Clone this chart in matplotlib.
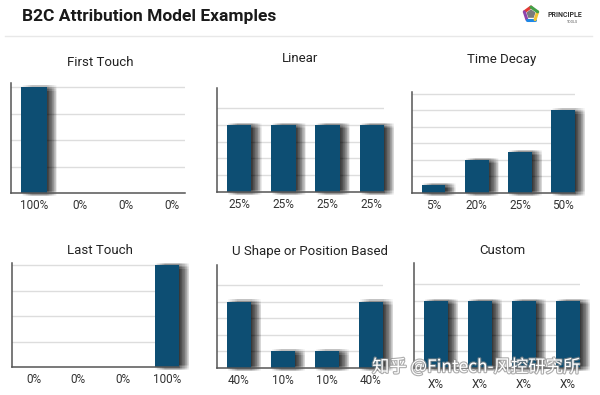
import matplotlib.pyplot as plt
import matplotlib.patheffects as pe
import numpy as np
from matplotlib.patches import Polygon

plt.rcParams['font.family'] = ['Roboto', 'DejaVu Sans']

# Data
titles = ['First Touch', 'Linear', 'Time Decay',
          'Last Touch', 'U Shape or Position Based', 'Custom']
first_touch = [100, 0, 0, 0]
linear = [25, 25, 25, 25]
time_decay = [5, 20, 25, 50]
last_touch = [0, 0, 0, 100]
u_shape = [40, 10, 10, 40]
custom = [40, 40, 40, 40]
values = [first_touch, linear, time_decay, last_touch, u_shape, custom]
labels = [['100%', '0%', '0%', '0%'],
          ['25%', '25%', '25%', '25%'],
          ['5%', '20%', '25%', '50%'],
          ['0%', '0%', '0%', '100%'],
          ['40%', '10%', '10%', '40%'],
          ['X%', 'X%', 'X%', 'X%']]
grid_step = [25, 6.25, 10, 25, 10, 10]
grid_top = [100, 31.25, 60, 100, 50, 50]
y_max = [104, 38.8, 61, 102, 62, 62.7]

# Layout (pixels: left, right, bottom, top measured from the top of the image)
W, H = 600, 395
boxes = [(11, 185, 193, 83), (217, 384, 192, 88), (412, 575, 193, 92),
         (12, 179, 367, 263), (217, 383, 368, 265), (414, 580, 368, 263)]
title_pos = [(100, 63), (300, 58), (502, 59), (100, 251), (310, 251), (502, 250)]
label_pad = [4, 4, 4, 4, 4, 7]

bar_color = '#0d4e73'
# soft drop shadow to the right of each bar (many faint offset copies)
shadow = [pe.SimplePatchShadow(offset=(dx, dy), shadow_rgbFace='black', alpha=0.014)
          for dx in np.arange(0.5, 8.0, 0.5) for dy in (-2.5, -1.5, -0.5, 0.5, 1.5)]
shadow.append(pe.Normal())

fig = plt.figure(figsize=(6, 3.95), dpi=100)

for i in range(6):
    l, r, b, t = boxes[i]
    ax = fig.add_axes([l / W, (H - b) / H, (r - l) / W, (b - t) / H])
    x = np.arange(4)
    for yv in np.arange(grid_step[i], grid_top[i] + 0.01, grid_step[i]):
        ax.axhline(yv, color='#dddddd', lw=1, zorder=0)
    bars = ax.bar(x, values[i], width=0.55, color=bar_color, zorder=2)
    for bar in bars:
        bar.set_path_effects(shadow)
        bar.set_clip_on(False)
    ax.set_xlim(-0.5, 3.275)
    ax.set_ylim(0, y_max[i])
    ax.set_xticks(x)
    ax.set_xticklabels(labels[i])
    ax.set_yticks([])
    ax.tick_params(axis='x', length=0, pad=label_pad[i], labelsize=8.5,
                   labelcolor='#333333')
    for s in ['top', 'right']:
        ax.spines[s].set_visible(False)
    for s in ['left', 'bottom']:
        ax.spines[s].set_color('#555555')
        ax.spines[s].set_linewidth(1.1)
        ax.spines[s].set_zorder(3)
    ax.patch.set_alpha(0)
    tx, ty = title_pos[i]
    fig.text(tx / W, 1 - ty / H, titles[i], ha='center', va='center',
             fontsize=9.5, color='#222222')

# Header
fig.text(22 / W, 1 - 16 / H, 'B2C Attribution Model Examples', ha='left', va='center',
         fontsize=12.5, fontweight='bold', color='#1a1a1a')
fig.add_artist(plt.Line2D([5 / W, 592 / W], [1 - 36 / H, 1 - 36 / H],
                          color='#e8e8e8', lw=1))

# Logo
cx, cy, rad = 531, 14, 7
ang = np.pi / 2 + np.arange(5) * 2 * np.pi / 5
px = cx + rad * np.cos(ang)
py = cy - rad * np.sin(ang)
pts = [(a / W, 1 - c / H) for a, c in zip(px, py)]
inner = [(cx + 0.55 * (a - cx), cy + 0.55 * (c - cy)) for a, c in zip(px, py)]
fig.add_artist(Polygon([(a / W, 1 - c / H) for a, c in inner], closed=True,
                       transform=fig.transFigure, color='#7a7a7a'))
logo_colors = ['#e53935', '#8e44ad', '#1e88e5', '#f4c430', '#43a047']
for k in range(5):
    p0, p1 = pts[k], pts[(k + 1) % 5]
    fig.add_artist(plt.Line2D([p0[0], p1[0]], [p0[1], p1[1]],
                              color=logo_colors[k], lw=2.2, solid_capstyle='round'))
fig.text(548 / W, 1 - 15 / H, 'PRINCIPLE', ha='left', va='center', fontsize=5,
         fontweight='bold', color='#333333')
fig.text(572 / W, 1 - 22 / H, 'TOOLS', ha='center', va='center', fontsize=2.5,
         color='#555555')

# Watermark
fig.text(372 / W, 1 - 367 / H, '知乎 @Fintech-风控研究所', ha='left', va='center',
         fontsize=12.5, color='white', family=['Noto Sans CJK SC', 'DejaVu Sans'],
         path_effects=[pe.withStroke(linewidth=1.6, foreground='#8a8a8a', alpha=0.7)])

fig.savefig('out.png', dpi=100)
